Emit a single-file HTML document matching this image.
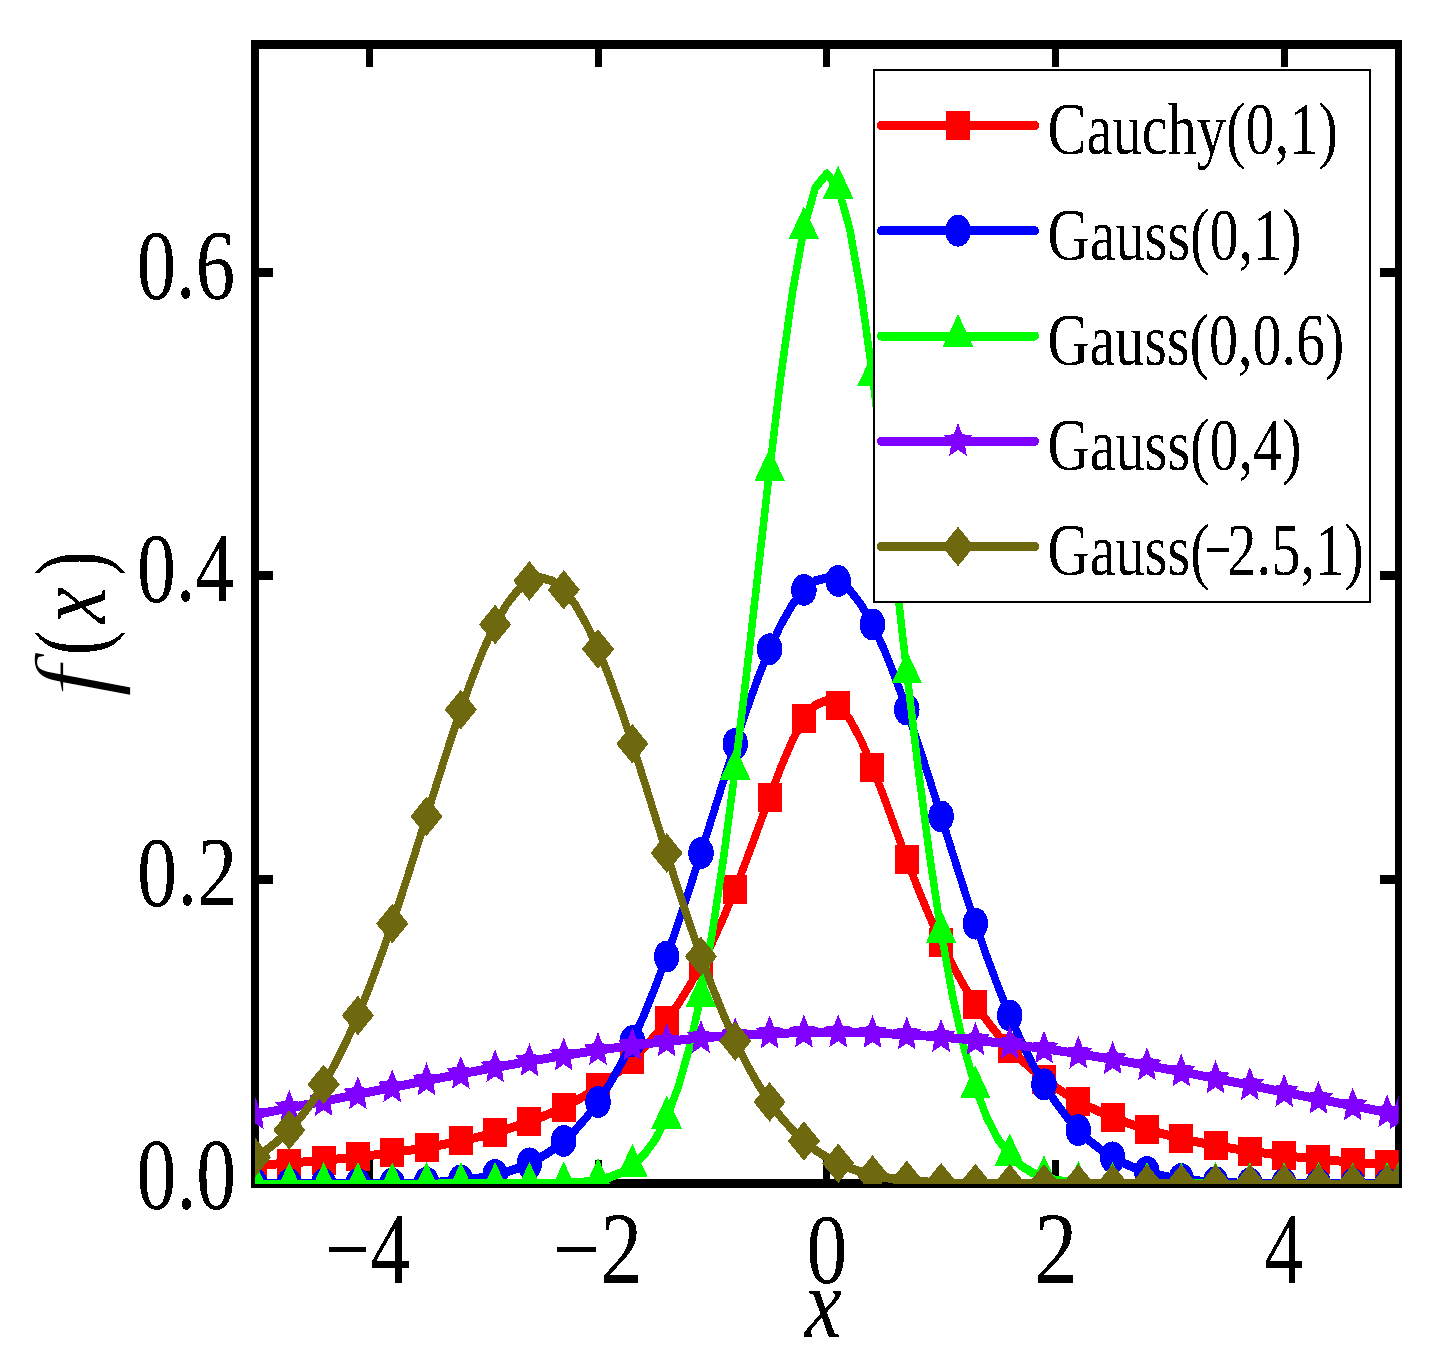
<!DOCTYPE html><html><head><meta charset="utf-8"><style>html,body{margin:0;padding:0;background:#fff;}svg{display:block;}text{font-family:"Liberation Serif","Times New Roman",serif;fill:#000;}</style></head><body>
<svg width="1445" height="1371" viewBox="0 0 1445 1371">
<rect width="1445" height="1371" fill="#fff"/>
<defs><filter id="bin" x="-5%" y="-5%" width="110%" height="110%" color-interpolation-filters="sRGB"><feComponentTransfer><feFuncA type="discrete" tableValues="0 1"/></feComponentTransfer></filter></defs>
<defs><clipPath id="ax"><rect x="255.0" y="44.5" width="1143.5" height="1139.5"/></clipPath></defs>
<g fill="#000" shape-rendering="crispEdges">
<rect x="251" y="40" width="8" height="1148"/>
<rect x="1395" y="40" width="7" height="1148"/>
<rect x="251" y="40" width="1151" height="9"/>
<rect x="251" y="1179" width="1151" height="9"/>
<rect x="365.85" y="1160" width="7" height="24"/>
<rect x="365.85" y="44" width="7" height="22.8"/>
<rect x="594.55" y="1160" width="7" height="24"/>
<rect x="594.55" y="44" width="7" height="22.8"/>
<rect x="823.25" y="1160" width="7" height="24"/>
<rect x="823.25" y="44" width="7" height="22.8"/>
<rect x="1051.95" y="1160" width="7" height="24"/>
<rect x="1051.95" y="44" width="7" height="22.8"/>
<rect x="1280.65" y="1160" width="7" height="24"/>
<rect x="1280.65" y="44" width="7" height="22.8"/>
<rect x="255" y="875" width="18" height="9"/>
<rect x="1380" y="875" width="18.5" height="9"/>
<rect x="255" y="571" width="18" height="9"/>
<rect x="1380" y="571" width="18.5" height="9"/>
<rect x="255" y="268" width="18" height="9"/>
<rect x="1380" y="268" width="18.5" height="9"/>
</g>
<g clip-path="url(#ax)" shape-rendering="crispEdges">
<g transform="scale(1 1.2)"><polyline points="255.00,971.166 266.43,970.552 277.87,969.902 289.30,969.213 300.74,968.480 312.18,967.701 323.61,966.872 335.05,965.989 346.48,965.046 357.92,964.038 369.35,962.960 380.79,961.805 392.22,960.565 403.65,959.232 415.09,957.797 426.52,956.250 437.96,954.579 449.39,952.771 460.83,950.811 472.27,948.682 483.70,946.365 495.13,943.838 506.57,941.077 518.01,938.052 529.44,934.732 540.88,931.078 552.31,927.049 563.75,922.594 575.18,917.657 586.62,912.172 598.05,906.064 609.49,899.245 620.92,891.616 632.36,883.064 643.79,873.460 655.22,862.662 666.66,850.513 678.10,836.847 689.53,821.496 700.97,804.307 712.40,785.159 723.84,764.006 735.27,740.925 746.70,716.186 758.14,690.332 769.58,664.254 781.01,639.239 792.45,616.928 803.88,599.152 815.32,587.641 826.75,583.651 838.19,587.641 849.62,599.152 861.06,616.928 872.49,639.239 883.93,664.254 895.36,690.332 906.80,716.186 918.23,740.925 929.67,764.006 941.10,785.159 952.54,804.307 963.97,821.496 975.41,836.847 986.84,850.513 998.27,862.662 1009.71,873.460 1021.15,883.064 1032.58,891.616 1044.02,899.245 1055.45,906.064 1066.89,912.172 1078.32,917.657 1089.76,922.594 1101.19,927.049 1112.62,931.078 1124.06,934.732 1135.49,938.052 1146.93,941.077 1158.37,943.838 1169.80,946.365 1181.23,948.682 1192.67,950.811 1204.11,952.771 1215.54,954.579 1226.97,956.250 1238.41,957.797 1249.85,959.232 1261.28,960.565 1272.72,961.805 1284.15,962.960 1295.58,964.038 1307.02,965.046 1318.46,965.989 1329.89,966.872 1341.33,967.701 1352.76,968.480 1364.20,969.213 1375.63,969.902 1387.07,970.552 1398.50,971.166" fill="none" stroke="#ff0000" stroke-width="7.5" stroke-linejoin="round" stroke-linecap="round"/></g>
<rect x="243.00" y="1150.90" width="24" height="29" fill="#ff0000"/>
<rect x="277.30" y="1148.56" width="24" height="29" fill="#ff0000"/>
<rect x="311.61" y="1145.75" width="24" height="29" fill="#ff0000"/>
<rect x="345.92" y="1142.35" width="24" height="29" fill="#ff0000"/>
<rect x="380.22" y="1138.18" width="24" height="29" fill="#ff0000"/>
<rect x="414.52" y="1133.00" width="24" height="29" fill="#ff0000"/>
<rect x="448.83" y="1126.47" width="24" height="29" fill="#ff0000"/>
<rect x="483.13" y="1118.11" width="24" height="29" fill="#ff0000"/>
<rect x="517.44" y="1107.18" width="24" height="29" fill="#ff0000"/>
<rect x="551.74" y="1092.61" width="24" height="29" fill="#ff0000"/>
<rect x="586.05" y="1072.78" width="24" height="29" fill="#ff0000"/>
<rect x="620.36" y="1045.18" width="24" height="29" fill="#ff0000"/>
<rect x="654.66" y="1006.12" width="24" height="29" fill="#ff0000"/>
<rect x="688.97" y="950.67" width="24" height="29" fill="#ff0000"/>
<rect x="723.27" y="874.61" width="24" height="29" fill="#ff0000"/>
<rect x="757.58" y="782.60" width="24" height="29" fill="#ff0000"/>
<rect x="791.88" y="704.48" width="24" height="29" fill="#ff0000"/>
<rect x="826.19" y="690.67" width="24" height="29" fill="#ff0000"/>
<rect x="860.49" y="752.59" width="24" height="29" fill="#ff0000"/>
<rect x="894.80" y="844.92" width="24" height="29" fill="#ff0000"/>
<rect x="929.10" y="927.69" width="24" height="29" fill="#ff0000"/>
<rect x="963.40" y="989.72" width="24" height="29" fill="#ff0000"/>
<rect x="997.71" y="1033.65" width="24" height="29" fill="#ff0000"/>
<rect x="1032.01" y="1064.59" width="24" height="29" fill="#ff0000"/>
<rect x="1066.32" y="1086.69" width="24" height="29" fill="#ff0000"/>
<rect x="1100.62" y="1102.79" width="24" height="29" fill="#ff0000"/>
<rect x="1134.93" y="1114.79" width="24" height="29" fill="#ff0000"/>
<rect x="1169.23" y="1123.92" width="24" height="29" fill="#ff0000"/>
<rect x="1203.54" y="1131.00" width="24" height="29" fill="#ff0000"/>
<rect x="1237.84" y="1136.58" width="24" height="29" fill="#ff0000"/>
<rect x="1272.15" y="1141.05" width="24" height="29" fill="#ff0000"/>
<rect x="1306.45" y="1144.69" width="24" height="29" fill="#ff0000"/>
<rect x="1340.76" y="1147.68" width="24" height="29" fill="#ff0000"/>
<rect x="1375.07" y="1150.16" width="24" height="29" fill="#ff0000"/>
<rect x="1386.50" y="1150.90" width="24" height="29" fill="#ff0000"/>
<g transform="scale(1 1.2)"><polyline points="255.00,986.665 266.43,986.664 277.87,986.662 289.30,986.659 300.74,986.654 312.18,986.646 323.61,986.635 335.05,986.618 346.48,986.592 357.92,986.554 369.35,986.497 380.79,986.415 392.22,986.297 403.65,986.129 415.09,985.892 426.52,985.562 437.96,985.107 449.39,984.486 460.83,983.648 472.27,982.531 483.70,981.055 495.13,979.130 506.57,976.645 518.01,973.473 529.44,969.469 540.88,964.474 552.31,958.313 563.75,950.801 575.18,941.752 586.62,930.979 598.05,918.308 609.49,903.590 620.92,886.707 632.36,867.590 643.79,846.229 655.22,822.683 666.66,797.095 678.10,769.695 689.53,740.806 700.97,710.842 712.40,680.305 723.84,649.773 735.27,619.885 746.70,591.318 758.14,564.767 769.58,540.913 781.01,520.396 792.45,503.787 803.88,491.563 815.32,484.081 826.75,481.561 838.19,484.081 849.62,491.563 861.06,503.787 872.49,520.396 883.93,540.913 895.36,564.767 906.80,591.318 918.23,619.885 929.67,649.773 941.10,680.305 952.54,710.842 963.97,740.806 975.41,769.695 986.84,797.095 998.27,822.683 1009.71,846.229 1021.15,867.590 1032.58,886.707 1044.02,903.590 1055.45,918.308 1066.89,930.979 1078.32,941.752 1089.76,950.801 1101.19,958.313 1112.62,964.474 1124.06,969.469 1135.49,973.473 1146.93,976.645 1158.37,979.130 1169.80,981.055 1181.23,982.531 1192.67,983.648 1204.11,984.486 1215.54,985.107 1226.97,985.562 1238.41,985.892 1249.85,986.129 1261.28,986.297 1272.72,986.415 1284.15,986.497 1295.58,986.554 1307.02,986.592 1318.46,986.618 1329.89,986.635 1341.33,986.646 1352.76,986.654 1364.20,986.659 1375.63,986.662 1387.07,986.664 1398.50,986.665" fill="none" stroke="#0000ff" stroke-width="7.5" stroke-linejoin="round" stroke-linecap="round"/></g>
<ellipse cx="255.00" cy="1184.00" rx="12.75" ry="15.9" fill="#0000ff"/>
<ellipse cx="289.30" cy="1183.99" rx="12.75" ry="15.9" fill="#0000ff"/>
<ellipse cx="323.61" cy="1183.96" rx="12.75" ry="15.9" fill="#0000ff"/>
<ellipse cx="357.92" cy="1183.86" rx="12.75" ry="15.9" fill="#0000ff"/>
<ellipse cx="392.22" cy="1183.56" rx="12.75" ry="15.9" fill="#0000ff"/>
<ellipse cx="426.52" cy="1182.67" rx="12.75" ry="15.9" fill="#0000ff"/>
<ellipse cx="460.83" cy="1180.38" rx="12.75" ry="15.9" fill="#0000ff"/>
<ellipse cx="495.13" cy="1174.96" rx="12.75" ry="15.9" fill="#0000ff"/>
<ellipse cx="529.44" cy="1163.36" rx="12.75" ry="15.9" fill="#0000ff"/>
<ellipse cx="563.74" cy="1140.96" rx="12.75" ry="15.9" fill="#0000ff"/>
<ellipse cx="598.05" cy="1101.97" rx="12.75" ry="15.9" fill="#0000ff"/>
<ellipse cx="632.36" cy="1041.11" rx="12.75" ry="15.9" fill="#0000ff"/>
<ellipse cx="666.66" cy="956.51" rx="12.75" ry="15.9" fill="#0000ff"/>
<ellipse cx="700.97" cy="853.01" rx="12.75" ry="15.9" fill="#0000ff"/>
<ellipse cx="735.27" cy="743.86" rx="12.75" ry="15.9" fill="#0000ff"/>
<ellipse cx="769.58" cy="649.10" rx="12.75" ry="15.9" fill="#0000ff"/>
<ellipse cx="803.88" cy="589.88" rx="12.75" ry="15.9" fill="#0000ff"/>
<ellipse cx="838.19" cy="580.90" rx="12.75" ry="15.9" fill="#0000ff"/>
<ellipse cx="872.49" cy="624.47" rx="12.75" ry="15.9" fill="#0000ff"/>
<ellipse cx="906.80" cy="709.58" rx="12.75" ry="15.9" fill="#0000ff"/>
<ellipse cx="941.10" cy="816.37" rx="12.75" ry="15.9" fill="#0000ff"/>
<ellipse cx="975.40" cy="923.63" rx="12.75" ry="15.9" fill="#0000ff"/>
<ellipse cx="1009.71" cy="1015.47" rx="12.75" ry="15.9" fill="#0000ff"/>
<ellipse cx="1044.01" cy="1084.31" rx="12.75" ry="15.9" fill="#0000ff"/>
<ellipse cx="1078.32" cy="1130.10" rx="12.75" ry="15.9" fill="#0000ff"/>
<ellipse cx="1112.62" cy="1157.37" rx="12.75" ry="15.9" fill="#0000ff"/>
<ellipse cx="1146.93" cy="1171.97" rx="12.75" ry="15.9" fill="#0000ff"/>
<ellipse cx="1181.23" cy="1179.04" rx="12.75" ry="15.9" fill="#0000ff"/>
<ellipse cx="1215.54" cy="1182.13" rx="12.75" ry="15.9" fill="#0000ff"/>
<ellipse cx="1249.84" cy="1183.35" rx="12.75" ry="15.9" fill="#0000ff"/>
<ellipse cx="1284.15" cy="1183.80" rx="12.75" ry="15.9" fill="#0000ff"/>
<ellipse cx="1318.45" cy="1183.94" rx="12.75" ry="15.9" fill="#0000ff"/>
<ellipse cx="1352.76" cy="1183.98" rx="12.75" ry="15.9" fill="#0000ff"/>
<ellipse cx="1387.07" cy="1184.00" rx="12.75" ry="15.9" fill="#0000ff"/>
<ellipse cx="1398.50" cy="1184.00" rx="12.75" ry="15.9" fill="#0000ff"/>
<g transform="scale(1 1.2)"><polyline points="255.00,986.667 266.43,986.667 277.87,986.667 289.30,986.667 300.74,986.667 312.18,986.667 323.61,986.667 335.05,986.667 346.48,986.667 357.92,986.667 369.35,986.667 380.79,986.667 392.22,986.667 403.65,986.667 415.09,986.667 426.52,986.667 437.96,986.667 449.39,986.666 460.83,986.666 472.27,986.665 483.70,986.664 495.13,986.660 506.57,986.651 518.01,986.633 529.44,986.596 540.88,986.524 552.31,986.384 563.75,986.124 575.18,985.653 586.62,984.825 598.05,983.412 609.49,981.073 620.92,977.315 632.36,971.460 643.79,962.619 655.22,949.679 666.66,931.334 678.10,906.158 689.53,872.736 700.97,829.856 712.40,776.751 723.84,713.361 735.27,640.575 746.70,560.412 758.14,476.064 769.58,391.780 781.01,312.572 792.45,243.744 803.88,190.318 815.32,156.436 826.75,144.825 838.19,156.436 849.62,190.318 861.06,243.744 872.49,312.572 883.93,391.780 895.36,476.064 906.80,560.412 918.23,640.575 929.67,713.361 941.10,776.751 952.54,829.856 963.97,872.736 975.41,906.158 986.84,931.334 998.27,949.679 1009.71,962.619 1021.15,971.460 1032.58,977.315 1044.02,981.073 1055.45,983.412 1066.89,984.825 1078.32,985.653 1089.76,986.124 1101.19,986.384 1112.62,986.524 1124.06,986.596 1135.49,986.633 1146.93,986.651 1158.37,986.660 1169.80,986.664 1181.23,986.665 1192.67,986.666 1204.11,986.666 1215.54,986.667 1226.97,986.667 1238.41,986.667 1249.85,986.667 1261.28,986.667 1272.72,986.667 1284.15,986.667 1295.58,986.667 1307.02,986.667 1318.46,986.667 1329.89,986.667 1341.33,986.667 1352.76,986.667 1364.20,986.667 1375.63,986.667 1387.07,986.667 1398.50,986.667" fill="none" stroke="#00ff00" stroke-width="7.5" stroke-linejoin="round" stroke-linecap="round"/></g>
<polygon points="255.00,1162.00 239.75,1195.00 270.25,1195.00" fill="#00ff00"/>
<polygon points="289.30,1162.00 274.05,1195.00 304.55,1195.00" fill="#00ff00"/>
<polygon points="323.61,1162.00 308.36,1195.00 338.86,1195.00" fill="#00ff00"/>
<polygon points="357.92,1162.00 342.67,1195.00 373.17,1195.00" fill="#00ff00"/>
<polygon points="392.22,1162.00 376.97,1195.00 407.47,1195.00" fill="#00ff00"/>
<polygon points="426.52,1162.00 411.27,1195.00 441.77,1195.00" fill="#00ff00"/>
<polygon points="460.83,1162.00 445.58,1195.00 476.08,1195.00" fill="#00ff00"/>
<polygon points="495.13,1161.99 479.88,1194.99 510.38,1194.99" fill="#00ff00"/>
<polygon points="529.44,1161.92 514.19,1194.92 544.69,1194.92" fill="#00ff00"/>
<polygon points="563.74,1161.35 548.49,1194.35 578.99,1194.35" fill="#00ff00"/>
<polygon points="598.05,1158.09 582.80,1191.09 613.30,1191.09" fill="#00ff00"/>
<polygon points="632.36,1143.75 617.11,1176.75 647.61,1176.75" fill="#00ff00"/>
<polygon points="666.66,1095.60 651.41,1128.60 681.91,1128.60" fill="#00ff00"/>
<polygon points="700.97,973.83 685.72,1006.83 716.22,1006.83" fill="#00ff00"/>
<polygon points="735.27,746.69 720.02,779.69 750.52,779.69" fill="#00ff00"/>
<polygon points="769.58,448.14 754.33,481.14 784.83,481.14" fill="#00ff00"/>
<polygon points="803.88,206.38 788.63,239.38 819.13,239.38" fill="#00ff00"/>
<polygon points="838.19,165.72 822.94,198.72 853.44,198.72" fill="#00ff00"/>
<polygon points="872.49,353.09 857.24,386.09 887.74,386.09" fill="#00ff00"/>
<polygon points="906.80,650.49 891.55,683.49 922.05,683.49" fill="#00ff00"/>
<polygon points="941.10,910.10 925.85,943.10 956.35,943.10" fill="#00ff00"/>
<polygon points="975.40,1065.39 960.15,1098.39 990.65,1098.39" fill="#00ff00"/>
<polygon points="1009.71,1133.14 994.46,1166.14 1024.96,1166.14" fill="#00ff00"/>
<polygon points="1044.01,1155.29 1028.76,1188.29 1059.26,1188.29" fill="#00ff00"/>
<polygon points="1078.32,1160.78 1063.07,1193.78 1093.57,1193.78" fill="#00ff00"/>
<polygon points="1112.62,1161.83 1097.38,1194.83 1127.88,1194.83" fill="#00ff00"/>
<polygon points="1146.93,1161.98 1131.68,1194.98 1162.18,1194.98" fill="#00ff00"/>
<polygon points="1181.23,1162.00 1165.98,1195.00 1196.48,1195.00" fill="#00ff00"/>
<polygon points="1215.54,1162.00 1200.29,1195.00 1230.79,1195.00" fill="#00ff00"/>
<polygon points="1249.84,1162.00 1234.59,1195.00 1265.09,1195.00" fill="#00ff00"/>
<polygon points="1284.15,1162.00 1268.90,1195.00 1299.40,1195.00" fill="#00ff00"/>
<polygon points="1318.45,1162.00 1303.20,1195.00 1333.70,1195.00" fill="#00ff00"/>
<polygon points="1352.76,1162.00 1337.51,1195.00 1368.01,1195.00" fill="#00ff00"/>
<polygon points="1387.07,1162.00 1371.82,1195.00 1402.32,1195.00" fill="#00ff00"/>
<polygon points="1398.50,1162.00 1383.25,1195.00 1413.75,1195.00" fill="#00ff00"/>
<g transform="scale(1 1.2)"><polyline points="255.00,928.853 266.43,927.037 277.87,925.201 289.30,923.349 300.74,921.482 312.18,919.602 323.61,917.710 335.05,915.810 346.48,913.903 357.92,911.991 369.35,910.076 380.79,908.162 392.22,906.250 403.65,904.343 415.09,902.443 426.52,900.554 437.96,898.677 449.39,896.815 460.83,894.971 472.27,893.148 483.70,891.348 495.13,889.575 506.57,887.830 518.01,886.116 529.44,884.437 540.88,882.795 552.31,881.192 563.75,879.631 575.18,878.115 586.62,876.647 598.05,875.228 609.49,873.862 620.92,872.550 632.36,871.295 643.79,870.099 655.22,868.964 666.66,867.893 678.10,866.886 689.53,865.947 700.97,865.076 712.40,864.275 723.84,863.547 735.27,862.891 746.70,862.309 758.14,861.803 769.58,861.373 781.01,861.020 792.45,860.745 803.88,860.548 815.32,860.430 826.75,860.390 838.19,860.430 849.62,860.548 861.06,860.745 872.49,861.020 883.93,861.373 895.36,861.803 906.80,862.309 918.23,862.891 929.67,863.547 941.10,864.275 952.54,865.076 963.97,865.947 975.41,866.886 986.84,867.893 998.27,868.964 1009.71,870.099 1021.15,871.295 1032.58,872.550 1044.02,873.862 1055.45,875.228 1066.89,876.647 1078.32,878.115 1089.76,879.631 1101.19,881.192 1112.62,882.795 1124.06,884.437 1135.49,886.116 1146.93,887.830 1158.37,889.575 1169.80,891.348 1181.23,893.148 1192.67,894.971 1204.11,896.815 1215.54,898.677 1226.97,900.554 1238.41,902.443 1249.85,904.343 1261.28,906.250 1272.72,908.162 1284.15,910.076 1295.58,911.991 1307.02,913.903 1318.46,915.810 1329.89,917.710 1341.33,919.602 1352.76,921.482 1364.20,923.349 1375.63,925.201 1387.07,927.037 1398.50,928.853" fill="none" stroke="#8000ff" stroke-width="7.5" stroke-linejoin="round" stroke-linecap="round"/></g>
<polygon points="255.00,1096.37 259.23,1107.54 269.27,1108.98 261.85,1117.33 263.82,1129.39 255.00,1123.38 246.18,1129.39 248.15,1117.33 240.73,1108.98 250.77,1107.54" fill="#8000ff"/>
<polygon points="289.30,1089.77 293.54,1100.93 303.57,1102.38 296.15,1110.73 298.12,1122.78 289.30,1116.78 280.49,1122.78 282.46,1110.73 275.04,1102.38 285.07,1100.93" fill="#8000ff"/>
<polygon points="323.61,1083.00 327.84,1094.17 337.88,1095.61 330.46,1103.96 332.43,1116.02 323.61,1110.01 314.79,1116.02 316.76,1103.96 309.34,1095.61 319.38,1094.17" fill="#8000ff"/>
<polygon points="357.92,1076.14 362.15,1087.30 372.18,1088.75 364.76,1097.10 366.73,1109.15 357.92,1103.15 349.10,1109.15 351.07,1097.10 343.65,1088.75 353.68,1087.30" fill="#8000ff"/>
<polygon points="392.22,1069.25 396.45,1080.41 406.49,1081.86 399.07,1090.21 401.04,1102.26 392.22,1096.26 383.40,1102.26 385.37,1090.21 377.95,1081.86 387.99,1080.41" fill="#8000ff"/>
<polygon points="426.52,1062.41 430.76,1073.58 440.79,1075.02 433.37,1083.37 435.34,1095.43 426.52,1089.42 417.71,1095.43 419.68,1083.37 412.26,1075.02 422.29,1073.58" fill="#8000ff"/>
<polygon points="460.83,1055.72 465.06,1066.88 475.10,1068.33 467.68,1076.67 469.65,1088.73 460.83,1082.73 452.01,1088.73 453.98,1076.67 446.56,1068.33 456.60,1066.88" fill="#8000ff"/>
<polygon points="495.13,1049.24 499.37,1060.40 509.40,1061.85 501.98,1070.20 503.95,1082.25 495.13,1076.25 486.32,1082.25 488.29,1070.20 480.87,1061.85 490.90,1060.40" fill="#8000ff"/>
<polygon points="529.44,1043.07 533.67,1054.24 543.71,1055.68 536.29,1064.03 538.26,1076.09 529.44,1070.08 520.62,1076.09 522.59,1064.03 515.17,1055.68 525.21,1054.24" fill="#8000ff"/>
<polygon points="563.74,1037.31 567.98,1048.47 578.01,1049.92 570.59,1058.26 572.56,1070.32 563.74,1064.32 554.93,1070.32 556.90,1058.26 549.48,1049.92 559.51,1048.47" fill="#8000ff"/>
<polygon points="598.05,1032.02 602.28,1043.19 612.32,1044.63 604.90,1052.98 606.87,1065.04 598.05,1059.03 589.23,1065.04 591.20,1052.98 583.78,1044.63 593.82,1043.19" fill="#8000ff"/>
<polygon points="632.36,1027.30 636.59,1038.47 646.62,1039.91 639.20,1048.26 641.17,1060.32 632.36,1054.31 623.54,1060.32 625.51,1048.26 618.09,1039.91 628.12,1038.47" fill="#8000ff"/>
<polygon points="666.66,1023.22 670.89,1034.38 680.93,1035.83 673.51,1044.18 675.48,1056.24 666.66,1050.23 657.84,1056.24 659.81,1044.18 652.39,1035.83 662.43,1034.38" fill="#8000ff"/>
<polygon points="700.97,1019.84 705.20,1031.00 715.23,1032.45 707.81,1040.80 709.78,1052.86 700.97,1046.85 692.15,1052.86 694.12,1040.80 686.70,1032.45 696.73,1031.00" fill="#8000ff"/>
<polygon points="735.27,1017.22 739.50,1028.38 749.54,1029.83 742.12,1038.18 744.09,1050.23 735.27,1044.23 726.45,1050.23 728.42,1038.18 721.00,1029.83 731.04,1028.38" fill="#8000ff"/>
<polygon points="769.58,1015.40 773.81,1026.56 783.84,1028.01 776.42,1036.35 778.39,1048.41 769.58,1042.41 760.76,1048.41 762.73,1036.35 755.31,1028.01 765.34,1026.56" fill="#8000ff"/>
<polygon points="803.88,1014.41 808.11,1025.57 818.15,1027.02 810.73,1035.36 812.70,1047.42 803.88,1041.42 795.06,1047.42 797.03,1035.36 789.61,1027.02 799.65,1025.57" fill="#8000ff"/>
<polygon points="838.19,1014.27 842.42,1025.43 852.45,1026.88 845.03,1035.22 847.00,1047.28 838.19,1041.28 829.37,1047.28 831.34,1035.22 823.92,1026.88 833.95,1025.43" fill="#8000ff"/>
<polygon points="872.49,1014.97 876.72,1026.14 886.76,1027.58 879.34,1035.93 881.31,1047.99 872.49,1041.98 863.67,1047.99 865.64,1035.93 858.22,1027.58 868.26,1026.14" fill="#8000ff"/>
<polygon points="906.80,1016.52 911.03,1027.68 921.06,1029.13 913.64,1037.48 915.61,1049.54 906.80,1043.53 897.98,1049.54 899.95,1037.48 892.53,1029.13 902.56,1027.68" fill="#8000ff"/>
<polygon points="941.10,1018.88 945.33,1030.04 955.37,1031.49 947.95,1039.84 949.92,1051.90 941.10,1045.89 932.28,1051.90 934.25,1039.84 926.83,1031.49 936.87,1030.04" fill="#8000ff"/>
<polygon points="975.40,1022.01 979.64,1033.18 989.67,1034.62 982.25,1042.97 984.22,1055.03 975.40,1049.02 966.59,1055.03 968.56,1042.97 961.14,1034.62 971.17,1033.18" fill="#8000ff"/>
<polygon points="1009.71,1025.87 1013.94,1037.03 1023.98,1038.48 1016.56,1046.83 1018.53,1058.88 1009.71,1052.88 1000.89,1058.88 1002.86,1046.83 995.44,1038.48 1005.48,1037.03" fill="#8000ff"/>
<polygon points="1044.01,1030.38 1048.25,1041.55 1058.28,1042.99 1050.86,1051.34 1052.83,1063.40 1044.01,1057.39 1035.20,1063.40 1037.17,1051.34 1029.75,1042.99 1039.78,1041.55" fill="#8000ff"/>
<polygon points="1078.32,1035.49 1082.55,1046.65 1092.59,1048.10 1085.17,1056.45 1087.14,1068.50 1078.32,1062.50 1069.50,1068.50 1071.47,1056.45 1064.05,1048.10 1074.09,1046.65" fill="#8000ff"/>
<polygon points="1112.62,1041.10 1116.86,1052.27 1126.89,1053.71 1119.47,1062.06 1121.44,1074.12 1112.62,1068.11 1103.81,1074.12 1105.78,1062.06 1098.36,1053.71 1108.39,1052.27" fill="#8000ff"/>
<polygon points="1146.93,1047.15 1151.16,1058.31 1161.20,1059.76 1153.78,1068.10 1155.75,1080.16 1146.93,1074.16 1138.11,1080.16 1140.08,1068.10 1132.66,1059.76 1142.70,1058.31" fill="#8000ff"/>
<polygon points="1181.23,1053.53 1185.47,1064.69 1195.50,1066.14 1188.08,1074.48 1190.05,1086.54 1181.23,1080.54 1172.42,1086.54 1174.39,1074.48 1166.97,1066.14 1177.00,1064.69" fill="#8000ff"/>
<polygon points="1215.54,1060.16 1219.77,1071.33 1229.81,1072.77 1222.39,1081.12 1224.36,1093.18 1215.54,1087.17 1206.72,1093.18 1208.69,1081.12 1201.27,1072.77 1211.31,1071.33" fill="#8000ff"/>
<polygon points="1249.84,1066.96 1254.08,1078.12 1264.11,1079.57 1256.69,1087.92 1258.66,1099.98 1249.84,1093.97 1241.03,1099.98 1243.00,1087.92 1235.58,1079.57 1245.61,1078.12" fill="#8000ff"/>
<polygon points="1284.15,1073.84 1288.38,1085.00 1298.42,1086.45 1291.00,1094.80 1292.97,1106.86 1284.15,1100.85 1275.33,1106.86 1277.30,1094.80 1269.88,1086.45 1279.92,1085.00" fill="#8000ff"/>
<polygon points="1318.45,1080.72 1322.69,1091.88 1332.72,1093.33 1325.30,1101.68 1327.27,1113.74 1318.45,1107.73 1309.64,1113.74 1311.61,1101.68 1304.19,1093.33 1314.22,1091.88" fill="#8000ff"/>
<polygon points="1352.76,1087.53 1356.99,1098.69 1367.03,1100.14 1359.61,1108.49 1361.58,1120.54 1352.76,1114.54 1343.94,1120.54 1345.91,1108.49 1338.49,1100.14 1348.53,1098.69" fill="#8000ff"/>
<polygon points="1387.07,1094.19 1391.30,1105.36 1401.33,1106.80 1393.91,1115.15 1395.88,1127.21 1387.07,1121.20 1378.25,1127.21 1380.22,1115.15 1372.80,1106.80 1382.83,1105.36" fill="#8000ff"/>
<polygon points="1398.50,1096.37 1402.73,1107.54 1412.77,1108.98 1405.35,1117.33 1407.32,1129.39 1398.50,1123.38 1389.68,1129.39 1391.65,1117.33 1384.23,1108.98 1394.27,1107.54" fill="#8000ff"/>
<g transform="scale(1 1.2)"><polyline points="255.00,964.474 266.43,958.313 277.87,950.801 289.30,941.752 300.74,930.979 312.18,918.308 323.61,903.590 335.05,886.707 346.48,867.590 357.92,846.229 369.35,822.683 380.79,797.095 392.22,769.695 403.65,740.806 415.09,710.842 426.52,680.305 437.96,649.773 449.39,619.885 460.83,591.318 472.27,564.767 483.70,540.913 495.13,520.396 506.57,503.787 518.01,491.563 529.44,484.081 540.88,481.561 552.31,484.081 563.75,491.563 575.18,503.787 586.62,520.396 598.05,540.913 609.49,564.767 620.92,591.318 632.36,619.885 643.79,649.773 655.22,680.305 666.66,710.842 678.10,740.806 689.53,769.695 700.97,797.095 712.40,822.683 723.84,846.229 735.27,867.590 746.70,886.707 758.14,903.590 769.58,918.308 781.01,930.979 792.45,941.752 803.88,950.801 815.32,958.313 826.75,964.474 838.19,969.469 849.62,973.473 861.06,976.645 872.49,979.130 883.93,981.055 895.36,982.531 906.80,983.648 918.23,984.486 929.67,985.107 941.10,985.562 952.54,985.892 963.97,986.129 975.41,986.297 986.84,986.415 998.27,986.497 1009.71,986.554 1021.15,986.592 1032.58,986.618 1044.02,986.635 1055.45,986.646 1066.89,986.654 1078.32,986.659 1089.76,986.662 1101.19,986.664 1112.62,986.665 1124.06,986.666 1135.49,986.666 1146.93,986.666 1158.37,986.666 1169.80,986.667 1181.23,986.667 1192.67,986.667 1204.11,986.667 1215.54,986.667 1226.97,986.667 1238.41,986.667 1249.85,986.667 1261.28,986.667 1272.72,986.667 1284.15,986.667 1295.58,986.667 1307.02,986.667 1318.46,986.667 1329.89,986.667 1341.33,986.667 1352.76,986.667 1364.20,986.667 1375.63,986.667 1387.07,986.667 1398.50,986.667" fill="none" stroke="#6e690e" stroke-width="7.5" stroke-linejoin="round" stroke-linecap="round"/></g>
<polygon points="255.00,1137.57 271.10,1157.37 255.00,1177.17 238.90,1157.37" fill="#6e690e"/>
<polygon points="289.30,1110.30 305.40,1130.10 289.30,1149.90 273.20,1130.10" fill="#6e690e"/>
<polygon points="323.61,1064.51 339.71,1084.31 323.61,1104.11 307.51,1084.31" fill="#6e690e"/>
<polygon points="357.92,995.67 374.02,1015.47 357.92,1035.27 341.82,1015.47" fill="#6e690e"/>
<polygon points="392.22,903.83 408.32,923.63 392.22,943.43 376.12,923.63" fill="#6e690e"/>
<polygon points="426.52,796.57 442.62,816.37 426.52,836.17 410.42,816.37" fill="#6e690e"/>
<polygon points="460.83,689.78 476.93,709.58 460.83,729.38 444.73,709.58" fill="#6e690e"/>
<polygon points="495.13,604.67 511.24,624.47 495.13,644.27 479.03,624.47" fill="#6e690e"/>
<polygon points="529.44,561.10 545.54,580.90 529.44,600.70 513.34,580.90" fill="#6e690e"/>
<polygon points="563.74,570.08 579.84,589.88 563.74,609.68 547.64,589.88" fill="#6e690e"/>
<polygon points="598.05,629.30 614.15,649.10 598.05,668.90 581.95,649.10" fill="#6e690e"/>
<polygon points="632.36,724.06 648.46,743.86 632.36,763.66 616.25,743.86" fill="#6e690e"/>
<polygon points="666.66,833.21 682.76,853.01 666.66,872.81 650.56,853.01" fill="#6e690e"/>
<polygon points="700.97,936.71 717.07,956.51 700.97,976.31 684.87,956.51" fill="#6e690e"/>
<polygon points="735.27,1021.31 751.37,1041.11 735.27,1060.91 719.17,1041.11" fill="#6e690e"/>
<polygon points="769.58,1082.17 785.68,1101.97 769.58,1121.77 753.48,1101.97" fill="#6e690e"/>
<polygon points="803.88,1121.16 819.98,1140.96 803.88,1160.76 787.78,1140.96" fill="#6e690e"/>
<polygon points="838.19,1143.56 854.29,1163.36 838.19,1183.16 822.09,1163.36" fill="#6e690e"/>
<polygon points="872.49,1155.16 888.59,1174.96 872.49,1194.76 856.39,1174.96" fill="#6e690e"/>
<polygon points="906.80,1160.58 922.90,1180.38 906.80,1200.18 890.70,1180.38" fill="#6e690e"/>
<polygon points="941.10,1162.87 957.20,1182.67 941.10,1202.47 925.00,1182.67" fill="#6e690e"/>
<polygon points="975.40,1163.76 991.50,1183.56 975.40,1203.36 959.30,1183.56" fill="#6e690e"/>
<polygon points="1009.71,1164.06 1025.81,1183.86 1009.71,1203.66 993.61,1183.86" fill="#6e690e"/>
<polygon points="1044.01,1164.16 1060.11,1183.96 1044.01,1203.76 1027.91,1183.96" fill="#6e690e"/>
<polygon points="1078.32,1164.19 1094.42,1183.99 1078.32,1203.79 1062.22,1183.99" fill="#6e690e"/>
<polygon points="1112.62,1164.20 1128.72,1184.00 1112.62,1203.80 1096.53,1184.00" fill="#6e690e"/>
<polygon points="1146.93,1164.20 1163.03,1184.00 1146.93,1203.80 1130.83,1184.00" fill="#6e690e"/>
<polygon points="1181.23,1164.20 1197.33,1184.00 1181.23,1203.80 1165.13,1184.00" fill="#6e690e"/>
<polygon points="1215.54,1164.20 1231.64,1184.00 1215.54,1203.80 1199.44,1184.00" fill="#6e690e"/>
<polygon points="1249.84,1164.20 1265.94,1184.00 1249.84,1203.80 1233.74,1184.00" fill="#6e690e"/>
<polygon points="1284.15,1164.20 1300.25,1184.00 1284.15,1203.80 1268.05,1184.00" fill="#6e690e"/>
<polygon points="1318.45,1164.20 1334.55,1184.00 1318.45,1203.80 1302.36,1184.00" fill="#6e690e"/>
<polygon points="1352.76,1164.20 1368.86,1184.00 1352.76,1203.80 1336.66,1184.00" fill="#6e690e"/>
<polygon points="1387.07,1164.20 1403.16,1184.00 1387.07,1203.80 1370.97,1184.00" fill="#6e690e"/>
<polygon points="1398.50,1164.20 1414.60,1184.00 1398.50,1203.80 1382.40,1184.00" fill="#6e690e"/>
</g>
<rect x="874" y="70" width="496" height="532" fill="#fff" stroke="#000" stroke-width="2"/>
<g shape-rendering="crispEdges">
<g transform="scale(1 1.2)"><line x1="880.75" y1="104.583" x2="1035.25" y2="104.583" stroke="#ff0000" stroke-width="7.5" stroke-linecap="round"/></g>
<rect x="946.00" y="111.00" width="24" height="29" fill="#ff0000"/>
<g transform="scale(1 1.2)"><line x1="880.75" y1="192.292" x2="1035.25" y2="192.292" stroke="#0000ff" stroke-width="7.5" stroke-linecap="round"/></g>
<ellipse cx="958.00" cy="230.75" rx="12.75" ry="15.9" fill="#0000ff"/>
<g transform="scale(1 1.2)"><line x1="880.75" y1="280.000" x2="1035.25" y2="280.000" stroke="#00ff00" stroke-width="7.5" stroke-linecap="round"/></g>
<polygon points="958.00,314.00 942.75,347.00 973.25,347.00" fill="#00ff00"/>
<g transform="scale(1 1.2)"><line x1="880.75" y1="367.708" x2="1035.25" y2="367.708" stroke="#8000ff" stroke-width="7.5" stroke-linecap="round"/></g>
<polygon points="958.00,423.00 962.23,434.16 972.27,435.61 964.85,443.96 966.82,456.01 958.00,450.01 949.18,456.01 951.15,443.96 943.73,435.61 953.77,434.16" fill="#8000ff"/>
<g transform="scale(1 1.2)"><line x1="880.75" y1="455.417" x2="1035.25" y2="455.417" stroke="#6e690e" stroke-width="7.5" stroke-linecap="round"/></g>
<polygon points="958.00,526.70 974.10,546.50 958.00,566.30 941.90,546.50" fill="#6e690e"/>
</g>
<g filter="url(#bin)">
<text font-size="100" transform="matrix(0.58412 0 0 0.74300 1047.61 154.40)">Cauchy(0,1)</text>
<text font-size="100" transform="matrix(0.58292 0 0 0.74300 1047.61 259.65)">Gauss(0,1)</text>
<text font-size="100" transform="matrix(0.58090 0 0 0.74300 1047.62 364.90)">Gauss(0,0.6)</text>
<text font-size="100" transform="matrix(0.58292 0 0 0.74300 1047.61 470.15)">Gauss(0,4)</text>
<text font-size="100" transform="matrix(0.58321 0 0 0.74300 1047.61 575.40)">Gauss(</text>
<text font-size="100" transform="matrix(0.48172 0 0 0.74300 1204.19 575.40)">−</text>
<text font-size="100" transform="matrix(0.58619 0 0 0.74300 1227.22 575.40)">2.5,1)</text>
<text font-size="100" transform="matrix(0.80391 0 0 1.01824 324.98 1283.00)">−4</text>
<text font-size="100" transform="matrix(0.83660 0 0 1.01782 553.36 1283.38)">−2</text>
<text font-size="100" transform="matrix(0.81816 0 0 0.99956 806.58 1282.15)">0</text>
<text font-size="100" transform="matrix(0.85935 0 0 1.01571 1034.45 1283.00)">2</text>
<text font-size="100" transform="matrix(0.79246 0 0 1.01125 1263.88 1283.00)">4</text>
<text font-size="100" transform="matrix(0.79804 0 0 1.00957 136.51 1209.43)">0.0</text>
<text font-size="100" transform="matrix(0.80380 0 0 0.99131 136.95 905.22)">0.2</text>
<text font-size="100" transform="matrix(0.77759 0 0 1.00044 137.05 601.21)">0.4</text>
<text font-size="100" transform="matrix(0.78680 0 0 0.98675 136.70 297.61)">0.6</text>
<text font-style="italic" font-size="100" transform="matrix(0.83608 0 0 1.00044 804.77 1337.38)">x</text>
<text font-style="italic" font-size="100" transform="matrix(0 -1.15183 1.05998 0 108.42 697.27)" stroke="#fff" stroke-width="1.6">f</text>
<text font-size="100" transform="matrix(0 -0.73930 1.00000 0 104.40 655.25)">(</text>
<text font-style="italic" font-size="100" transform="matrix(0 -0.81737 1.00871 0 105.00 623.52)">x</text>
<text font-size="100" transform="matrix(0 -0.72374 1.00000 0 104.40 575.62)">)</text>
</g>
</svg></body></html>
